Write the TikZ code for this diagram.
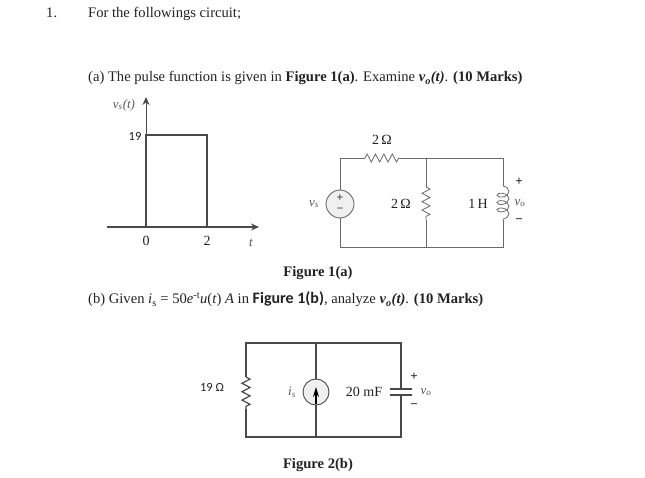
\documentclass[tikz,border=0pt]{standalone}
\usepackage{fontspec}
\setmainfont{Liberation Serif}
\newfontfamily\calfont{Carlito}
\usetikzlibrary{calc,arrows,positioning}
\usetikzlibrary{arrows.meta}
\usetikzlibrary{decorations.pathmorphing}
\definecolor{wirecol}{HTML}{6A6A6A}
\definecolor{plotcol}{HTML}{4A4A4A}
\definecolor{inkcol}{HTML}{222222}
\definecolor{srccol}{HTML}{F0F0F0}
\begin{document}
\begin{tikzpicture}[x=1pt,y=-1pt]
	\tikzstyle{txt}=[inner sep=0pt,anchor=base west,font=\fontsize{14.6}{16}\selectfont,text=inkcol]
	\tikzstyle{lbl}=[inner sep=0pt,font=\fontsize{14}{16}\selectfont,text=inkcol]
	\tikzstyle{sym}=[inner sep=0pt,font=\itshape\fontsize{13}{15}\selectfont,text=inkcol!75]
	\tikzstyle{sign}=[inner sep=0pt,font=\bfseries\fontsize{13}{13}\selectfont,text=inkcol]
	\tikzstyle{wire}=[draw=wirecol,line width=0.8pt]
	\tikzstyle{boldwire}=[draw=plotcol,line width=1.2pt]
	\tikzstyle{src}=[circle,draw=wirecol,line width=0.9pt,fill=srccol,minimum size=28pt,inner sep=0pt]
	\tikzstyle{res}=[decorate,decoration={zigzag,segment length=8.4pt,amplitude=4pt}]
	\tikzstyle{coil}=[decorate,decoration={coil,aspect=0.6,segment length=7.4pt,amplitude=6pt}]
	\useasboundingbox (0,0) rectangle (645,478);
	\fill[white] (0,0) rectangle (645,478);
	\node[txt] (num) at (46,18) {1.};
	\node[txt] (intro) at (88,18) {For the followings circuit;};
	\node[txt] (parta) at (88,82) {(a) The pulse function is given in \textbf{Figure 1(a)}. Examine \textbf{\textit{v\textsubscript{o}(t)}}. \textbf{(10 Marks)}};
	\node[txt] (partb) at (88,304) {(b) Given \textit{i}\textsubscript{s} = 50\textit{e}\textsuperscript{-t}\textit{u}(\textit{t}) \textit{A} in {\calfont\fontsize{16}{16}\selectfont\textbf{Figure 1(b)}}, analyze \textbf{\textit{v\textsubscript{o}(t)}}. \textbf{(10 Marks)}};
	\node[txt,anchor=base] (figa) at (318,277) {\textbf{Figure 1(a)}};
	\node[txt,anchor=base] (figb) at (318,468) {\textbf{Figure 2(b)}};

	\coordinate (xstart) at (107,227);
	\coordinate (xend) at (259,227);
	\coordinate (orig) at (146,227);
	\coordinate (ytop) at (146,97);
	\coordinate (ptop) at (146,135);
	\coordinate (pright) at (207,135);
	\coordinate (pdown) at (207,227);
	\draw[wire,-{Stealth[length=8pt,width=7pt]},draw=plotcol] (orig) -- (ytop);
	\draw[boldwire,-{Stealth[length=8pt,width=7pt]}] (xstart) -- (xend);
	\draw[boldwire] (orig) -- (ptop) -- (pright) -- (pdown);
	\node[sym] (vsl) at (124,105) {v\textsubscript{s}(t)};
	\node[lbl,font=\calfont\fontsize{12.5}{13}\selectfont] (nineteen) at (135,136) {19};
	\node[lbl,below=9pt of orig] (zero) {0};
	\node[lbl,below=9pt of pdown] (two) {2};
	\node[sym] (tl) at (251,243) {t};

	\coordinate (tl1) at (340,158);
	\coordinate (bl1) at (340,247);
	\coordinate (r1a) at (365,158);
	\coordinate (r1b) at (399,158);
	\coordinate (tm1) at (426,158);
	\coordinate (bm1) at (426,247);
	\coordinate (r2a) at (426,187);
	\coordinate (r2b) at (426,220);
	\coordinate (tr1) at (503,158);
	\coordinate (br1) at (503,247);
	\coordinate (l1a) at (503,186);
	\coordinate (l1b) at (503,220);
	\node[src] (vs) at (340,204) {};
	\node[inner sep=0pt,font=\fontsize{12}{12}\selectfont] (vsp) at (340,198) {+};
	\node[inner sep=0pt,font=\fontsize{12}{12}\selectfont] (vsm) at (340,210) {−};
	\draw[wire] (vs) -- (tl1) -- (r1a);
	\draw[wire,res] (r1a) -- (r1b);
	\draw[wire] (r1b) -- (tr1) -- (l1a);
	\draw[wire,coil] (l1a) -- (l1b);
	\draw[wire] (l1b) -- (br1) -- (bl1) -- (vs);
	\draw[wire] (tm1) -- (r2a);
	\draw[wire,res] (r2a) -- (r2b);
	\draw[wire] (r2b) -- (bm1);
	\node[lbl] (r1l) at (382,140) {2\,Ω};
	\node[lbl] (r2l) at (401,204) {2\,Ω};
	\node[sym] (vsn) at (314,204) {v\textsubscript{s}};
	\node[lbl] (ll) at (478,204) {1\,H};
	\node[sign] (vop) at (519,182) {+};
	\node[sym] (vo) at (520,203) {v\textsubscript{o}};
	\node[sign] (vom) at (519,221) {−};

	\coordinate (tl2) at (246,343);
	\coordinate (bl2) at (246,437);
	\coordinate (r3a) at (246,377);
	\coordinate (r3b) at (246,409);
	\coordinate (tm2) at (316,343);
	\coordinate (bm2) at (316,437);
	\coordinate (tr2) at (401,343);
	\coordinate (br2) at (401,437);
	\coordinate (c1a) at (390,389);
	\coordinate (c1b) at (412,389);
	\coordinate (c2a) at (390,395);
	\coordinate (c2b) at (412,395);
	\coordinate (c1m) at (401,389);
	\coordinate (c2m) at (401,395);
	\node[src,minimum size=26pt,draw=plotcol] (is) at (316,392) {};
	\draw[boldwire] (r3a) -- (tl2) -- (tr2) -- (c1m);
	\draw[boldwire] (c2m) -- (br2) -- (bl2) -- (r3b);
	\draw[boldwire,res] (r3a) -- (r3b);
	\draw[boldwire] (tm2) -- (is);
	\draw[boldwire] (is) -- (bm2);
	\draw[boldwire,-{Stealth[length=10pt,width=6pt]},draw=black] (316,404) -- (316,387);
	\draw[boldwire] (c1a) -- (c1b);
	\draw[boldwire] (c2a) -- (c2b);
	\node[lbl,font=\calfont\fontsize{12.5}{13}\selectfont] (r3l) at (212,387) {19 Ω};
	\node[sym] (isl) at (292,392) {i\textsubscript{s}};
	\node[lbl] (capl) at (364,392) {20 mF};
	\node[sign] (v2p) at (414,377) {+};
	\node[sym] (v2o) at (426,392) {v\textsubscript{o}};
	\node[sign] (v2m) at (414,406) {−};
\end{tikzpicture}
\end{document}
